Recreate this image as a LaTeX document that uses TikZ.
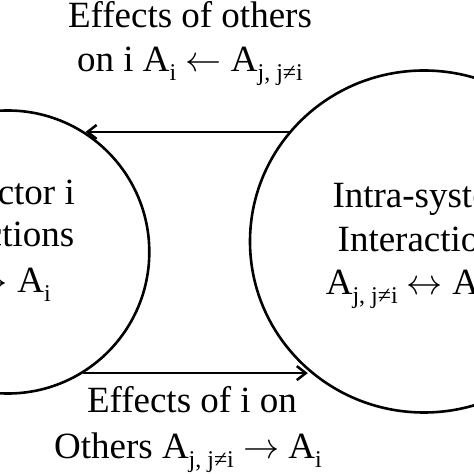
\documentclass[tikz,border=0pt]{standalone}
\usepackage{fontspec}
\setmainfont{Liberation Serif}
\usetikzlibrary{arrows.meta,shapes.geometric}
\newcommand{\sbs}[1]{\raisebox{-9pt}{\fontsize{24}{24}\selectfont #1}}
\newcommand{\la}{\scalebox{1.45}{$\leftarrow$}}
\newcommand{\ra}{\scalebox{1.45}{$\rightarrow$}}
\newcommand{\lra}{\scalebox{1.45}{$\leftrightarrow$}}
\begin{document}
\begin{tikzpicture}[x=1pt,y=1pt,
  txt/.style={font=\fontsize{37}{44}\selectfont, inner sep=0pt, anchor=base},
  bubble/.style={draw, line width=2.6pt, ellipse, inner sep=0pt},
  conn/.style={line width=2.5pt, -{Straight Barb[length=9pt,width=14pt]}}]
\clip (0,0) rectangle (474,474);
\node[bubble, minimum width=283pt, minimum height=283pt] (L) at (7.8,222) {};
\node[bubble, minimum width=348pt, minimum height=342pt] (R) at (424,232.5) {};
\coordinate (topL) at (L.57.4 |- R.141.1);
\coordinate (botR) at (L.302.6 -| R.228.7);
\draw[conn] (R.141.1) -- (topL);
\draw[conn] (L.302.6) -- (botR);
\node[txt] (t1) at (190,446) {Effects of others};
\node[txt] (t2) at (190,402) {on i A\sbs{i} \la{} A\sbs{j, j≠i}};
\node[txt] (b1) at (192,61) {Effects of i on};
\node[txt] (b2) at (188,16) {Others A\sbs{j, j≠i} \ra{} A\sbs{i}};
\node[txt] (l1) at (-13,269) {Intra-actor i};
\node[txt] (l2) at (-13,227) {Interactions};
\node[txt] (l3) at (-10,181) {A\sbs{i} \lra{} A\sbs{i}};
\node[txt] (r1) at (425,266) {Intra-system};
\node[txt] (r2) at (425,222) {Interactions};
\node[txt] (r3) at (425,179) {A\sbs{j, j≠i} \lra{} A\sbs{j, j≠i}};
\end{tikzpicture}
\end{document}
